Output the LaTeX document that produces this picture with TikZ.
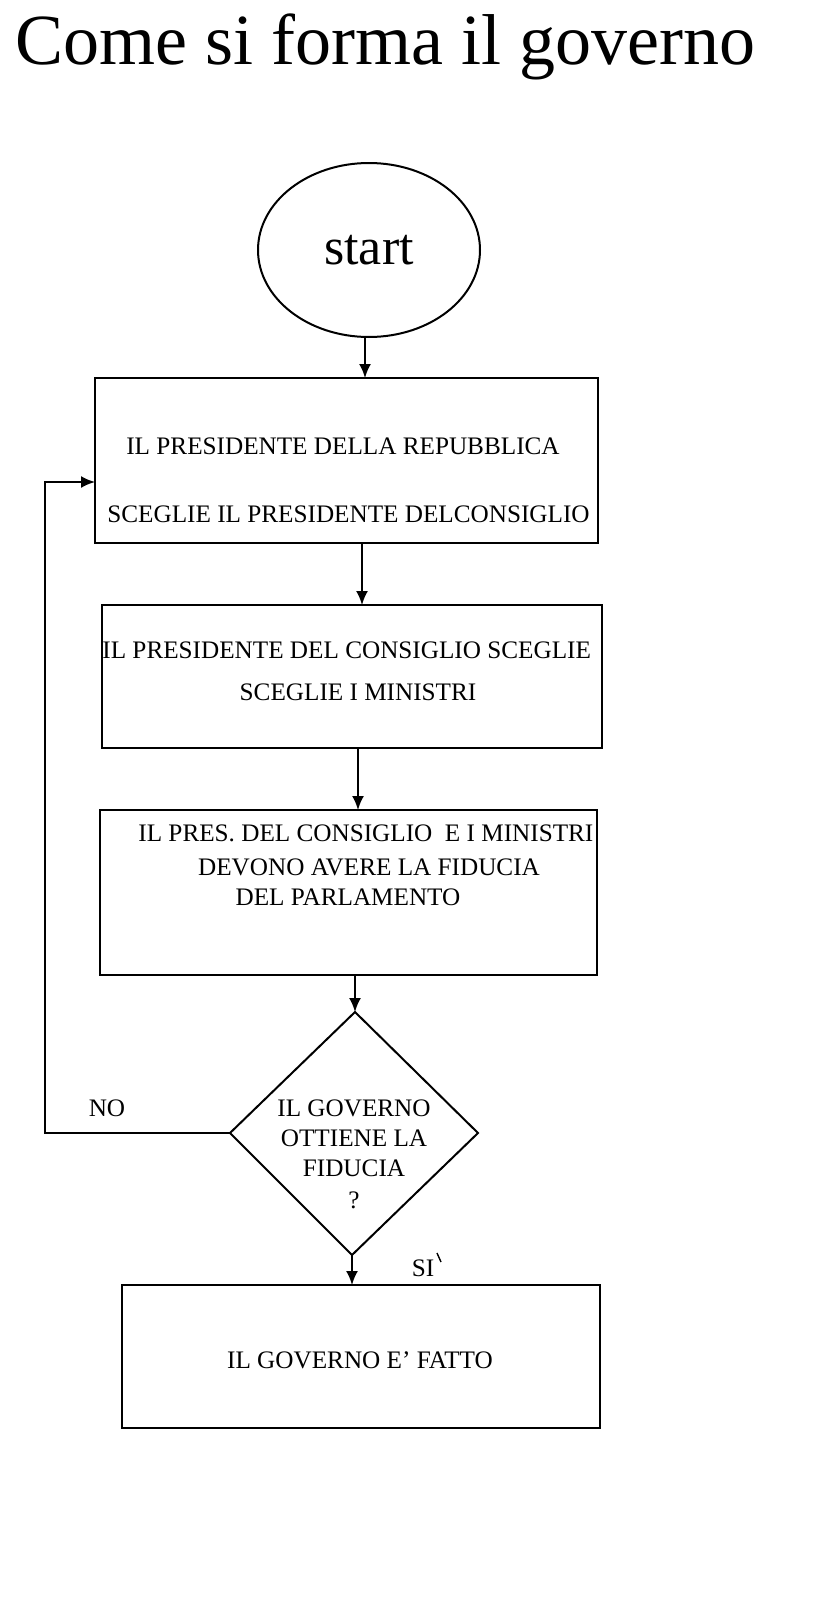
\documentclass[tikz,border=0pt]{standalone}
\usepackage{fontspec}
\setmainfont{Liberation Serif}
\usetikzlibrary{shapes.geometric,arrows.meta}
\begin{document}
\begin{tikzpicture}[x=0.5pt,y=-0.5pt,
  txt/.style={font=\fontsize{12.6pt}{14pt}\selectfont,inner sep=0pt},
  arr/.style={line width=1pt,-{Latex[length=7pt,width=6pt]}}]
\fill[white] (0,0) rectangle (822,1600);
\useasboundingbox (0,0) rectangle (822,1600);
\node[anchor=base west,inner sep=0pt,font=\fontsize{36pt}{40pt}\selectfont] (title) at (15,65) {Come si forma il governo};
\node[draw,line width=1pt,ellipse,minimum width=111pt,minimum height=87pt,inner sep=0pt,font=\fontsize{26pt}{30pt}\selectfont] (start) at (369,250) {start};
\draw[line width=1pt] (95,378) rectangle (598,543);
\node[txt] (b1a) at (343,446) {IL PRESIDENTE DELLA REPUBBLICA};
\node[txt,anchor=west] (b1b) at (107,514) {SCEGLIE IL PRESIDENTE DELCONSIGLIO};
\draw[arr] (365,337) coordinate (sb) -- (365,378) coordinate (b1t);
\draw[line width=1pt] (102,605) rectangle (602,748);
\node[txt,anchor=west] (b2a) at (102,650) {IL PRESIDENTE DEL CONSIGLIO SCEGLIE};
\node[txt] (b2b) at (358,692) {SCEGLIE I MINISTRI};
\draw[arr] (362,543) coordinate (b1s) -- (362,605) coordinate (b2t);
\draw[line width=1pt] (100,810) rectangle (597,975);
\node[txt,anchor=west] (b3a) at (138,833) {IL PRES. DEL CONSIGLIO\ \ E I MINISTRI};
\node[txt] (b3b) at (369,867) {DEVONO AVERE LA FIDUCIA};
\node[txt] (b3c) at (348,897) {DEL PARLAMENTO};
\draw[arr] (358,748) coordinate (b2s) -- (358,810) coordinate (b3t);
\coordinate (dt) at (355,1012);
\coordinate (dl) at (230,1133);
\coordinate (dr) at (478,1133);
\coordinate (db) at (352,1255);
\draw[line width=1pt] (dt) -- (dr) -- (db) -- (dl) -- cycle;
\draw[arr] (355,975) coordinate (b3s) -- (dt);
\node[txt] (d1) at (354,1108) {IL GOVERNO};
\node[txt] (d2) at (354,1138) {OTTIENE LA};
\node[txt] (d3) at (354,1168) {FIDUCIA};
\node[txt] (d4) at (354,1200) {?};
\node[txt] (no) at (107,1108) {NO};
\coordinate (lp1) at (45,1133);
\coordinate (lp2) at (45,482);
\coordinate (b1l) at (95,482);
\draw[arr] (dl) -- (lp1) -- (lp2) -- (b1l);
\draw[line width=1pt] (122,1285) rectangle (600,1428);
\draw[arr] (db) -- (352,1285) coordinate (b4t);
\node[txt] (si) at (423,1268) {SI};
\draw[line width=0.7pt] (437,1253) -- (441,1262);
\node[txt] (b4) at (360,1360) {IL GOVERNO E' FATTO};
\end{tikzpicture}
\end{document}
